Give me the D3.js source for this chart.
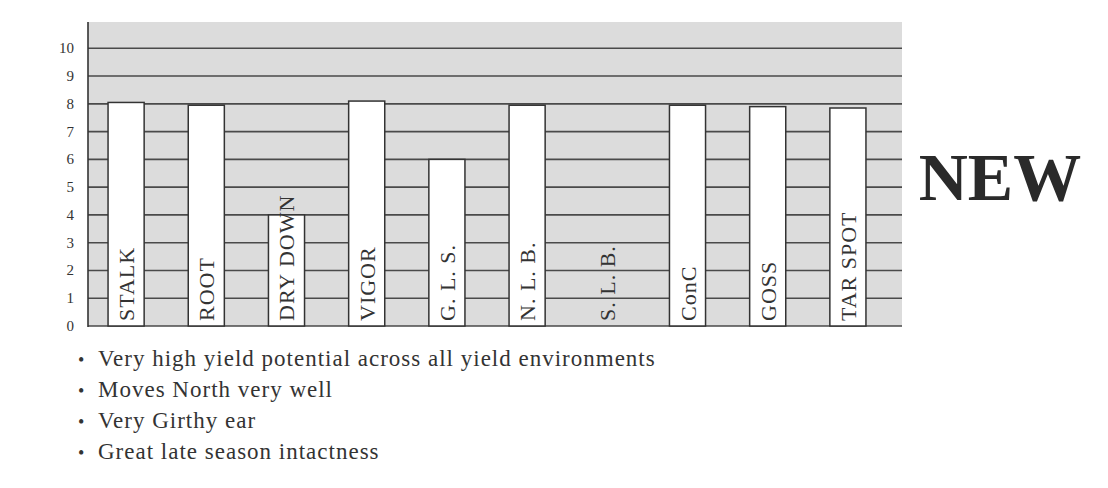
<!DOCTYPE html><html><head><meta charset="utf-8"><script src="https://cdn.jsdelivr.net/npm/d3@7"></script>
<style>body{margin:0;background:#fff}svg{font-family:"Liberation Serif","DejaVu Serif",serif}</style></head><body><svg id="c" width="1108" height="488"></svg>
<script>
const categories=["STALK","ROOT","DRY DOWN","VIGOR","G. L. S.","N. L. B.","S. L. B.","ConC","GOSS","TAR SPOT"];
const values=[8.05,7.95,4,8.1,6,7.95,0,7.95,7.9,7.85];
const ticks=[0,1,2,3,4,5,6,7,8,9,10];
const bullets=["Very high yield potential across all yield environments","Moves North very well","Very Girthy ear","Great late season intactness"];
const svg=d3.select("#c");
const L=88,R=902,T=22,B=326;
const y=d3.scaleLinear().domain([0,10]).range([B,48.3]);
const x=d3.scaleBand().domain(categories).range([L,886]).paddingInner(0.55).paddingOuter(0.25);
svg.append("rect").attr("x",L).attr("y",T).attr("width",R-L).attr("height",B-T).attr("fill","#dcdcdc");
svg.append("g").selectAll("line").data(ticks).join("line").attr("x1",L).attr("x2",R).attr("y1",d=>y(d)).attr("y2",d=>y(d)).attr("stroke","#4a4a4a").attr("stroke-width",1.6);
svg.append("g").selectAll("text").data(ticks).join("text").attr("x",74).attr("y",d=>y(d)+5).attr("text-anchor","end").attr("font-size",15).attr("fill","#333").text(d=>d);
svg.append("line").attr("x1",L).attr("x2",L).attr("y1",T).attr("y2",B+1).attr("stroke","#333").attr("stroke-width",1.6);
const g=svg.append("g");
categories.forEach((c,i)=>{
  if(values[i]>0) g.append("rect").attr("x",x(c)).attr("y",y(values[i])).attr("width",x.bandwidth()).attr("height",B-y(values[i])).attr("fill","#fff").attr("stroke","#333").attr("stroke-width",1.5);
  g.append("text").attr("transform",`translate(${x(c)+x.bandwidth()/2+8},${B-5}) rotate(-90)`).attr("font-size",22).attr("letter-spacing",1).attr("fill","#333").text(c);
});
svg.append("text").attr("x",1000).attr("y",200).attr("text-anchor","middle").attr("font-size",68).attr("font-weight","bold").attr("fill","#2a2a2a").text("NEW");
const bl=svg.append("g").selectAll("g").data(bullets).join("g").attr("transform",(d,i)=>`translate(0,${366+i*31})`);
bl.append("text").attr("x",78).attr("font-size",18).attr("fill","#333").text("•");
bl.append("text").attr("x",98).attr("font-size",23).attr("letter-spacing",1).attr("fill","#333").text(d=>d);
</script></body></html>
